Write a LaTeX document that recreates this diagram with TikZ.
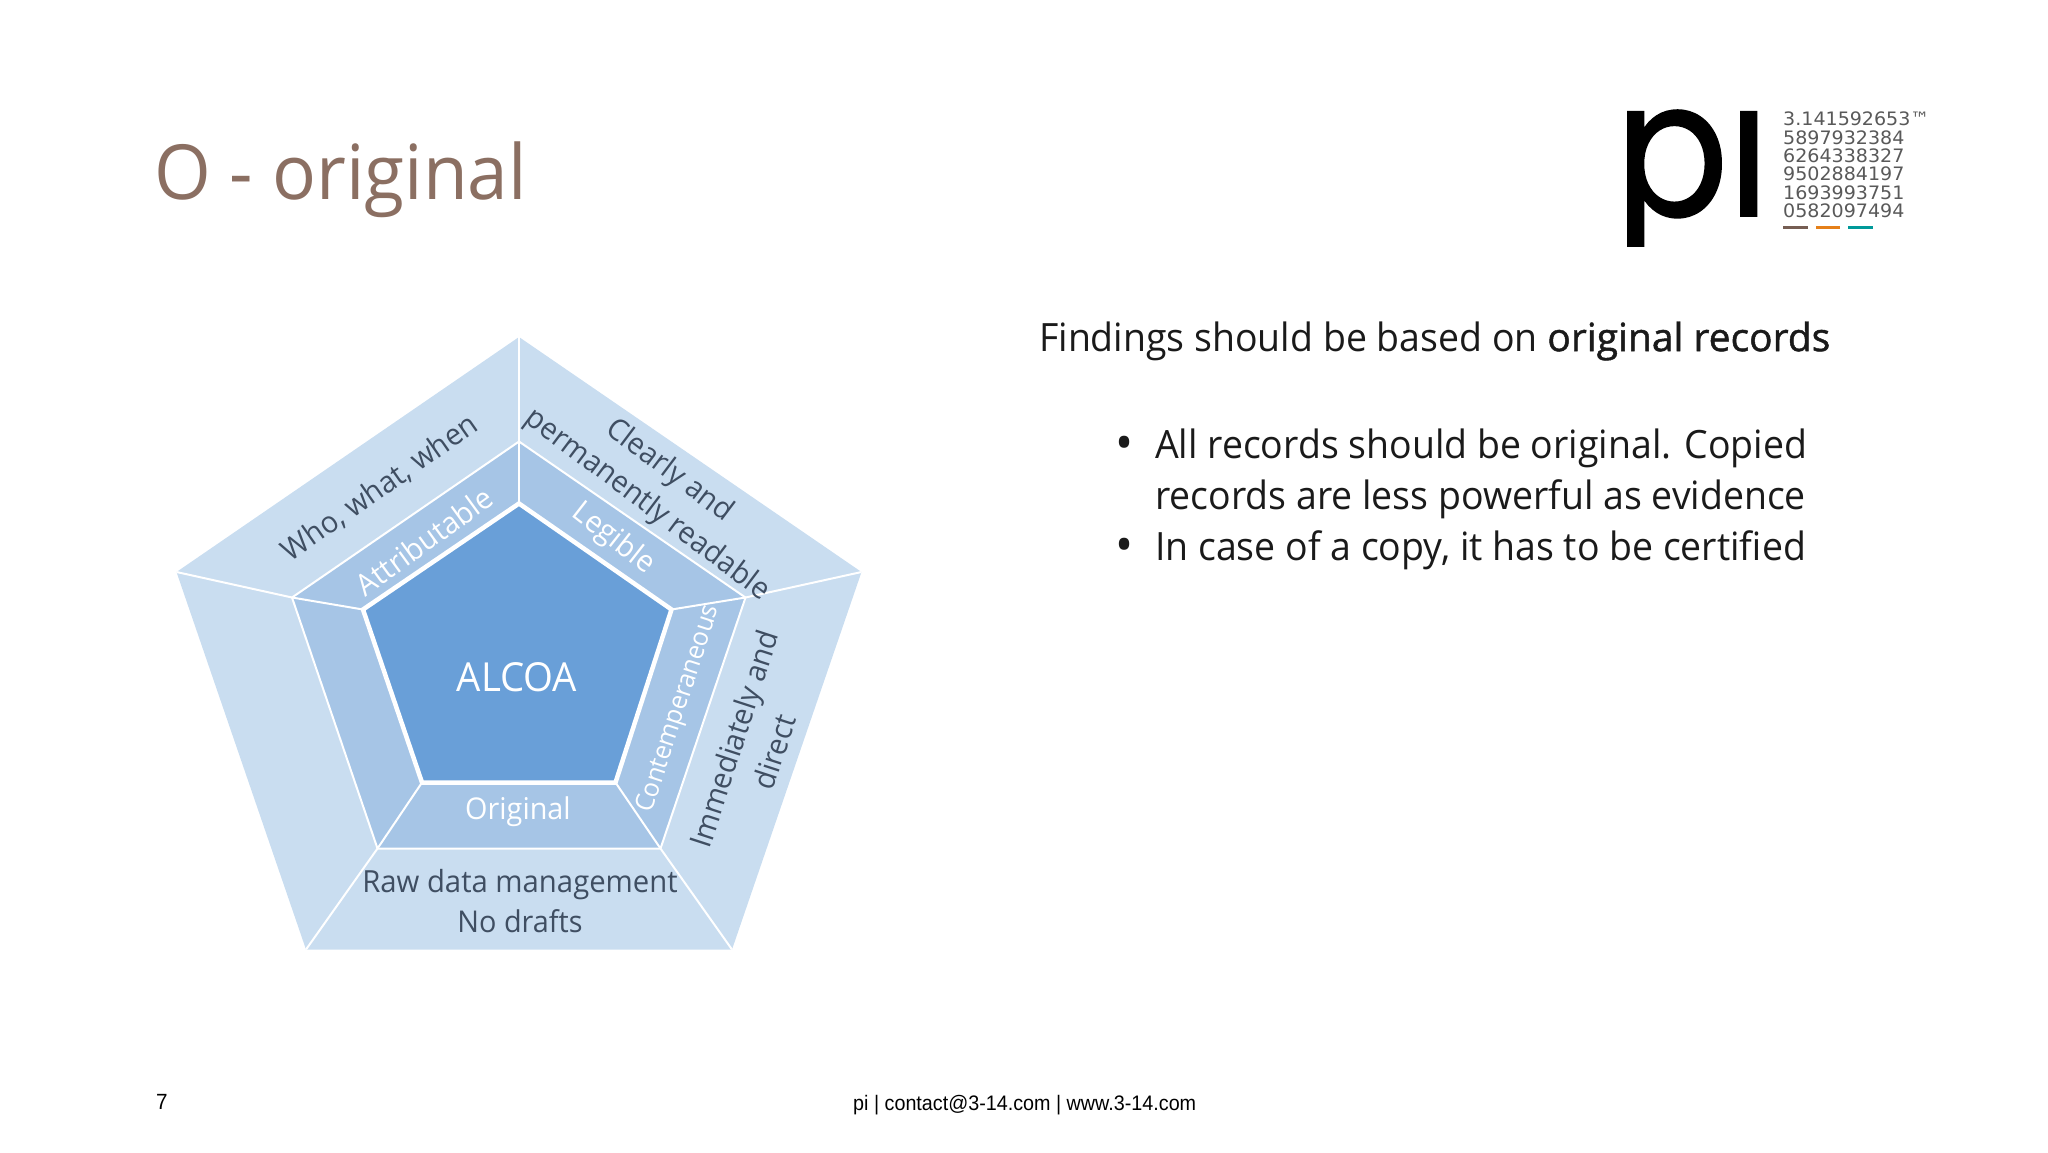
\documentclass[tikz,border=0pt]{standalone}
\usepackage{fontspec}
\setmainfont[FakeStretch=0.96]{Open Sans}
\newfontfamily\semibold[FakeStretch=1.0,FakeBold=1.2]{Open Sans}
\newfontfamily\logofont[FakeStretch=0.88,FakeBold=1]{Poppins}
\newfontfamily\digitfont[FakeStretch=1.03]{DejaVu Sans}
\newfontfamily\footfont[FakeStretch=0.94]{Liberation Sans}
\definecolor{outerblue}{HTML}{C9DDF0}
\definecolor{midblue}{HTML}{A6C5E6}
\definecolor{innerblue}{HTML}{699FD8}
\definecolor{titlebrown}{HTML}{8B6F62}
\definecolor{labelgrey}{HTML}{3F4E62}
\definecolor{bodyblack}{HTML}{1A1A1A}
\tikzset{
  darklabel/.style={text=labelgrey,font=\fontsize{30}{30}\selectfont,inner sep=0pt},
  lightlabel/.style={text=white,font=\fontsize{30}{30}\selectfont,inner sep=0pt},
  bodyline/.style={text=bodyblack,font=\fontsize{39}{39}\selectfont,anchor=west,inner sep=0pt},
  digitline/.style={text=black!65,font=\digitfont\fontsize{18.5}{18.5}\selectfont,anchor=west,inner sep=0pt}
}
\begin{document}
\begin{tikzpicture}[x=1pt,y=-1pt]
      \useasboundingbox (0,0) rectangle (2048,1152);
      % pentagon corners
      \coordinate (outerTop) at (519,337);
      \coordinate (outerRight) at (861.5,572);
      \coordinate (outerLowR) at (732,949.5);
      \coordinate (outerLowL) at (306,949.5);
      \coordinate (outerLeft) at (176.5,572);
      \coordinate (midTop) at (519,441.5);
      \coordinate (midRight) at (745.5,597.5);
      \coordinate (midLowR) at (660.5,848.5);
      \coordinate (midLowL) at (377.5,848.5);
      \coordinate (midLeft) at (292,597.5);
      \coordinate (innerTop) at (519,503.5);
      \coordinate (innerRight) at (671.5,609.5);
      \coordinate (innerLowR) at (615.5,782.5);
      \coordinate (innerLowL) at (422,782.5);
      \coordinate (innerLeft) at (363,609.5);
      \fill [outerblue] (outerTop) -- (outerRight) -- (outerLowR) -- (outerLowL) -- (outerLeft) -- cycle;
      \draw [white,line width=2pt,fill=midblue] (midTop) -- (midRight) -- (midLowR) -- (midLowL) -- (midLeft) -- cycle;
      \draw [white,line width=2pt] (outerTop) -- (midTop) -- (innerTop);
      \draw [white,line width=2pt] (outerRight) -- (midRight) -- (innerRight);
      \draw [white,line width=2pt] (outerLowR) -- (midLowR) -- (innerLowR);
      \draw [white,line width=2pt] (outerLowL) -- (midLowL) -- (innerLowL);
      \draw [white,line width=2pt] (outerLeft) -- (midLeft) -- (innerLeft);
      \draw [white,line width=4.5pt,fill=innerblue] (innerTop) -- (innerRight) -- (innerLowR) -- (innerLowL) -- (innerLeft) -- cycle;
      % pentagon labels
      \node [text=white,font=\fontsize{40}{40}\selectfont,inner sep=0pt] (alcoa) at (517,677) {ALCOA};
      \node [lightlabel] (original) at (518,812) {Original};
      \node [lightlabel,rotate=36] (attributable) at (424,541) {Attributable};
      \node [lightlabel,rotate=-38] (legible) at (613,539) {Legible};
      \node [lightlabel,rotate=72,font=\fontsize{26}{26}\selectfont] (contemp) at (679,709) {Contemperaneous};
      \node [darklabel,rotate=35] (who) at (380,488) {Who, what, when};
      \node [darklabel,rotate=-37] (clearly) at (669,471) {Clearly and};
      \node [darklabel,rotate=-37] (permanent) at (647,505) {permanently readable};
      \node [darklabel,rotate=72] (immediately) at (737,740) {Immediately and};
      \node [darklabel,rotate=72] (direct) at (774,752) {direct};
      \node [darklabel,font=\fontsize{30.5}{30.5}\selectfont] (rawdata) at (520,885) {Raw data management};
      \node [darklabel] (nodrafts) at (520,921) {No drafts};
      % title and body text
      \node [text=titlebrown,font=\fontsize{76}{76}\selectfont,anchor=west,inner sep=0pt] (title) at (154,180) {O - original};
      \node [bodyline] (findings) at (1039,341) {Findings should be based on {\semibold original records}};
      \node [bodyline] (bulletone) at (1155,448) {All records should be original. Copied};
      \node [bodyline] (bullettwo) at (1155,499) {records are less powerful as evidence};
      \node [bodyline] (bulletthree) at (1155,550) {In case of a copy, it has to be certified};
      \node [bodyline,font=\fontsize{50}{50}\selectfont] (dotone) at (1115,448) {•};
      \node [bodyline,font=\fontsize{50}{50}\selectfont] (dotthree) at (1115,550) {•};
      % logo
      \begin{scope}
        \clip (1600,90) rectangle (1780,246);
        \node [text=black,font=\logofont\fontsize{190}{190}\selectfont,anchor=base west,inner sep=0pt] (logo) at (1615,216) {pı};
      \end{scope}
      \node [digitline] (digitsa) at (1783,119) {3.141592653™};
      \node [digitline] (digitsb) at (1783,137.5) {5897932384};
      \node [digitline] (digitsc) at (1783,156) {6264338327};
      \node [digitline] (digitsd) at (1783,174) {9502884197};
      \node [digitline] (digitse) at (1783,192.5) {1693993751};
      \node [digitline] (digitsf) at (1783,211) {0582097494};
      \draw [line width=3pt,color=titlebrown!85!black] (1783,227.5) -- (1808,227.5);
      \draw [line width=3pt,color=orange!60!brown] (1816,227.5) -- (1840,227.5);
      \draw [line width=3pt,color=teal!80!cyan] (1848,227.5) -- (1873,227.5);
      % footer
      \node [text=black,font=\footfont\fontsize{22}{22}\selectfont,anchor=west,inner sep=0pt] (pagenum) at (156,1102) {7};
      \node [text=black,font=\footfont\fontsize{21}{21}\selectfont,anchor=west,inner sep=0pt] (footer) at (853,1105) {pi | contact@3-14.com | www.3-14.com};
    \end{tikzpicture}
\end{document}
